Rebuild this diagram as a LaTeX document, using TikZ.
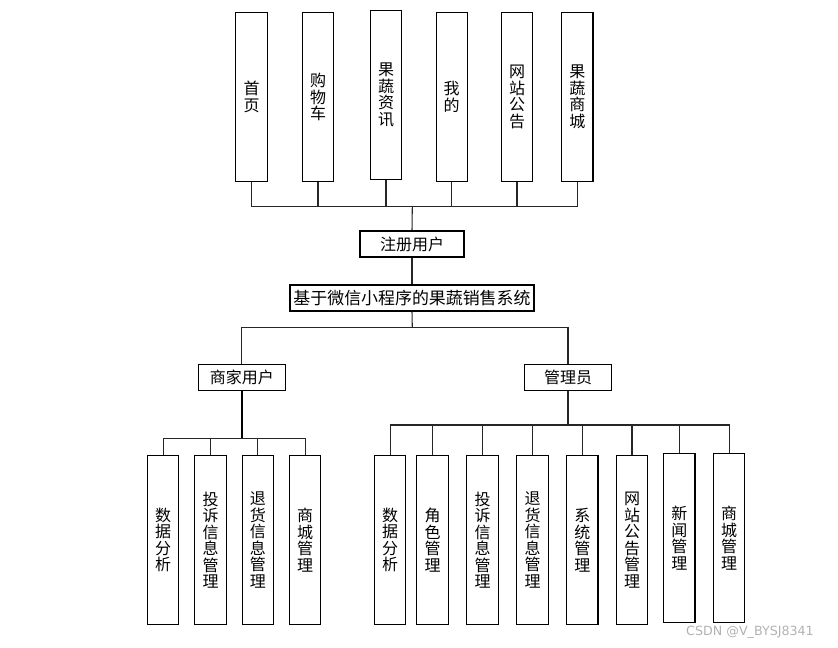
\documentclass[tikz,border=0pt]{standalone}
\usepackage{fontspec}
\usepackage{tikz}
\setmainfont{Noto Sans CJK SC}
\newfontfamily\markfont{DejaVu Sans}

\tikzset{
	vbox/.style={draw, line width=0.8pt, minimum width=23.5pt, minimum height=127pt,
		inner sep=0pt, align=center, font=\fontsize{12}{12.4}\selectfont},
	hbox/.style={draw, line width=0.8pt, minimum height=19.5pt, inner sep=0pt,
		font=\fontsize{12}{14}\selectfont},
	link/.style={line width=0.8pt, black!85},
}

\begin{document}
\begin{tikzpicture}[x=0.75pt,y=-0.75pt]
		\useasboundingbox (0,0) rectangle (838,648);
		% top row
		\node[vbox] (home) at (251.5,97) {首\\页};
		\node[vbox] (cart) at (318,97) {购\\物\\车};
		\node[vbox] (news) at (386,95) {果\\蔬\\资\\讯};
		\node[vbox] (mine) at (451.7,97) {我\\的};
		\node[vbox] (notice) at (517,97) {网\\站\\公\\告};
		\node[vbox] (mall) at (577.3,97) {果\\蔬\\商\\城};
		%
		\node[hbox, minimum width=78pt] (reg) at (412,244) {注册用户};
		\node[hbox, minimum width=183pt, font=\fontsize{12.7}{15}\selectfont] (sys) at (412,298) {基于微信小程序的果蔬销售系统};
		\node[hbox, minimum width=65pt] (shop) at (241.8,377.3) {商家用户};
		\node[hbox, minimum width=65pt] (admin) at (568,377.3) {管理员};
		% merchant row
		\node[vbox] (s1) at (163.2,540) {数\\据\\分\\析};
		\node[vbox] (s2) at (210.5,540) {投\\诉\\信\\息\\管\\理};
		\node[vbox] (s3) at (257.8,540) {退\\货\\信\\息\\管\\理};
		\node[vbox] (s4) at (305.2,540) {商\\城\\管\\理};
		% admin row
		\node[vbox] (a1) at (390.2,540) {数\\据\\分\\析};
		\node[vbox] (a2) at (432.5,540) {角\\色\\管\\理};
		\node[vbox] (a3) at (482.5,540) {投\\诉\\信\\息\\管\\理};
		\node[vbox] (a4) at (532.5,540) {退\\货\\信\\息\\管\\理};
		\node[vbox] (a5) at (582.3,540) {系\\统\\管\\理};
		\node[vbox] (a6) at (632,540) {网\\站\\公\\告\\管\\理};
		\node[vbox] (a7) at (679.3,538) {新\\闻\\管\\理};
		\node[vbox] (a8) at (729.2,538) {商\\城\\管\\理};
		%
		\coordinate (topbus) at (412.3,206.7);
		\coordinate (sysbus) at (412.3,327.7);
		\coordinate (shopbus) at (241.8,438.3);
		\coordinate (adminbus) at (568,425);
		%
		\draw[link] (reg.north) -- (topbus);
		\foreach \n in {home,cart,news,mine,notice,mall}
			\draw[link] (\n.south) |- (topbus);
		\draw[link] (reg.south) -- (sys.north);
		\draw[link] (sys.south) -- (sysbus);
		\draw[link] (shop.north) |- (sysbus);
		\draw[link] (admin.north) |- (sysbus);
		\draw[link, line width=1.4pt, black] (shop.south) -- (shopbus);
		\foreach \n in {s1,s2,s3,s4}
			\draw[link] (\n.north) |- (shopbus);
		\draw[link] (admin.south) -- (adminbus);
		\foreach \n in {a1,a2,a3,a4,a5,a6,a7,a8}
			\draw[link] (\n.north) |- (adminbus);
		%
		\node[text=black!30, font=\markfont\fontsize{9.5}{10}\selectfont] (mark) at (750,632) {CSDN @V\_BYSJ8341};
	\end{tikzpicture}
\end{document}
